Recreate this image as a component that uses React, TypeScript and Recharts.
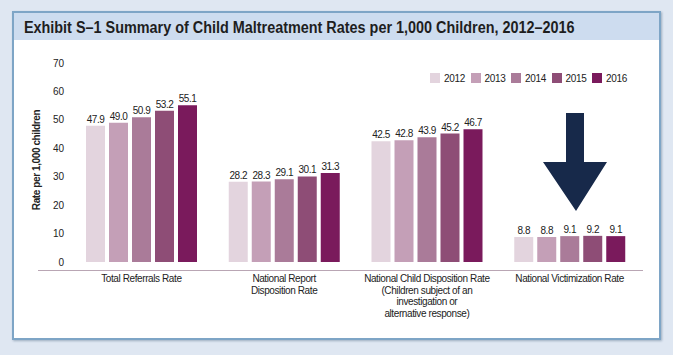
import { BarChart, Bar, XAxis, YAxis, LabelList } from 'recharts';

const categories = [
  'Total Referrals Rate',
  'National Report\nDisposition Rate',
  'National Child Disposition Rate\n(Children subject of an\ninvestigation or\nalternative response)',
  'National Victimization Rate',
];
const years = ['2012', '2013', '2014', '2015', '2016'];
const rate2012 = [47.9, 28.2, 42.5, 8.8];
const rate2013 = [49.0, 28.3, 42.8, 8.8];
const rate2014 = [50.9, 29.1, 43.9, 9.1];
const rate2015 = [53.2, 30.1, 45.2, 9.2];
const rate2016 = [55.1, 31.3, 46.7, 9.1];
const yTicks = [0, 10, 20, 30, 40, 50, 60, 70];

const COLORS = ['#e3d4de', '#c49fb7', '#aa7b99', '#8e4d76', '#7a1a5c'];
const FONT = '"Liberation Sans", Arial, sans-serif';

const data = categories.map((name, i) => ({
  name,
  '2012': rate2012[i],
  '2013': rate2013[i],
  '2014': rate2014[i],
  '2015': rate2015[i],
  '2016': rate2016[i],
}));

const CategoryTick = ({ x, y, payload }: any) => {
  const lines = String(payload.value).split('\n');
  return (
    <text x={x} y={y} textAnchor="middle" fontFamily={FONT} fontSize={10} letterSpacing={-0.4} fill="#222">
      {lines.map((line, i) => (
        <tspan key={i} x={x} dy={i === 0 ? 20 : 11.7}>
          {line}
        </tspan>
      ))}
    </text>
  );
};

export default function App() {
  return (
    <div style={{ position: 'absolute', left: 0, top: 0, width: 673, height: 355, background: '#dfe7f2', overflow: 'hidden' }}>
      <div
        style={{
          position: 'absolute',
          left: 12,
          top: 11,
          width: 645,
          height: 325,
          border: '2px solid #7ea5c6',
          background: '#ffffff',
          boxShadow: '1px 1px 2px rgba(60,90,120,0.4)',
        }}
      >
        <div style={{ height: 27, background: '#cddcef', overflow: 'hidden' }}>
          <div
            style={{
              fontFamily: FONT,
              fontWeight: 'bold',
              fontSize: 16,
              color: '#1e1e1e',
              lineHeight: '29px',
              paddingLeft: 11,
              whiteSpace: 'nowrap',
              transform: 'scaleX(0.9)',
              transformOrigin: '0 0',
            }}
          >
            Exhibit S–1 Summary of Child Maltreatment Rates per 1,000 Children, 2012–2016
          </div>
        </div>
      </div>

      <div style={{ position: 'absolute', left: 38, top: 270, width: 605, height: 1, background: '#b9a6b4' }} />

      <div
        style={{
          position: 'absolute',
          left: 430,
          top: 72,
          display: 'flex',
          fontFamily: FONT,
          fontSize: 10,
          letterSpacing: -0.3,
          color: '#222',
        }}
      >
        {years.map((yr, i) => (
          <div key={yr} style={{ display: 'flex', alignItems: 'center', width: 40.5, height: 12 }}>
            <span style={{ width: 10, height: 10, background: COLORS[i], marginRight: 4, display: 'inline-block' }} />
            <span>{yr}</span>
          </div>
        ))}
      </div>

      <BarChart
        width={673}
        height={355}
        data={data}
        margin={{ top: 63, right: 32, bottom: 63, left: 40 }}
        barSize={19}
        barGap={4}
        style={{ position: 'absolute', left: 0, top: 0 }}
      >
        <XAxis
          dataKey="name"
          height={30}
          axisLine={false}
          tickLine={false}
          tickSize={0}
          tickMargin={0}
          interval={0}
          tick={<CategoryTick />}
        />
        <YAxis
          width={30}
          domain={[0, 70]}
          ticks={yTicks}
          axisLine={false}
          tickLine={false}
          tickSize={0}
          tickMargin={6}
          tick={{ fontFamily: FONT, fontSize: 10, fill: '#222' }}
        />
        {years.map((yr, i) => (
          <Bar key={yr} dataKey={yr} fill={COLORS[i]} isAnimationActive={false}>
            <LabelList
              dataKey={yr}
              position="top"
              offset={3}
              formatter={(v: any) => Number(v).toFixed(1)}
              style={{ fontFamily: FONT, fontSize: 10, letterSpacing: -0.5, fill: '#222' }}
            />
          </Bar>
        ))}
      </BarChart>

      <svg width={673} height={355} style={{ position: 'absolute', left: 0, top: 0, pointerEvents: 'none' }}>
        <text
          x={40}
          y={160}
          transform="rotate(-90 40 160)"
          textAnchor="middle"
          fontFamily={FONT}
          fontWeight="bold"
          fontSize={10}
          letterSpacing={-0.4}
          fill="#222"
        >
          Rate per 1,000 children
        </text>
        <polygon points="566,113 584,113 584,162 607,162 576,211 543,162 566,162" fill="#17294a" />
      </svg>
    </div>
  );
}
